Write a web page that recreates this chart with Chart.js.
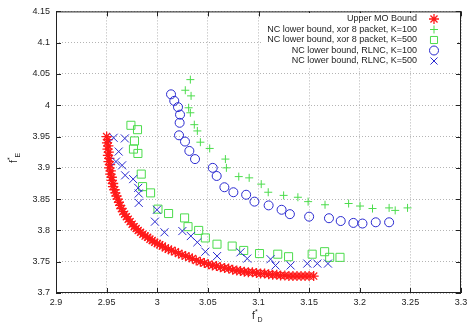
<!DOCTYPE html>
<html>
<head>
<meta charset="utf-8">
<script src="https://cdn.jsdelivr.net/npm/chart.js@4/dist/chart.umd.min.js"></script>
<style>
  html, body { margin: 0; padding: 0; background: #fff; }
  canvas { display: block; }
</style>
</head>
<body>
<canvas id="chart" width="474" height="332"></canvas>
<script>
// axis ticks
const xTickLabels = ['2.9', '2.95', '3', '3.05', '3.1', '3.15', '3.2', '3.25', '3.3'];
const yTickLabels = ['3.7', '3.75', '3.8', '3.85', '3.9', '3.95', '4', '4.05', '4.1', '4.15'];

const seriesNames = [
    'Upper MO Bound',
    'NC lower bound, xor 8 packet, K=100',
    'NC lower bound, xor 8 packet, K=500',
    'NC lower bound, RLNC, K=100',
    'NC lower bound, RLNC, K=500'
];

// upper MO bound (f*_D, f*_E)
const upperMO_D = [2.9500, 2.9512, 2.9503, 2.9518, 2.9508, 2.9522, 2.9512, 2.9528, 2.9518, 2.9535,
    2.9525, 2.9542, 2.9535, 2.9552, 2.9548, 2.9565, 2.9562, 2.9580, 2.9585, 2.9598,
    2.9608, 2.9622, 2.9632, 2.9648, 2.9660, 2.9678, 2.9695, 2.9713, 2.9732, 2.9752,
    2.9772, 2.9792, 2.9812, 2.9835, 2.9858, 2.9880, 2.9905, 2.9928, 2.9950, 2.9975,
    3.0000, 3.0025, 3.0050, 3.0080, 3.0110, 3.0140, 3.0178, 3.0210, 3.0245, 3.0280,
    3.0315, 3.0347, 3.0385, 3.0426, 3.0465, 3.0505, 3.0545, 3.0585, 3.0624, 3.0665,
    3.0705, 3.0745, 3.0785, 3.0822, 3.0860, 3.0900, 3.0940, 3.0980, 3.1020, 3.1060,
    3.1100, 3.1140, 3.1180, 3.1218, 3.1260, 3.1300, 3.1340, 3.1380, 3.1420, 3.1460,
    3.1500, 3.1545];
const upperMO_E = [3.950, 3.945, 3.940, 3.935, 3.930, 3.925, 3.920, 3.915, 3.910, 3.905,
    3.900, 3.895, 3.890, 3.885, 3.880, 3.875, 3.870, 3.865, 3.860, 3.855,
    3.850, 3.845, 3.840, 3.835, 3.830, 3.826, 3.822, 3.818, 3.814, 3.810,
    3.806, 3.803, 3.800, 3.797, 3.794, 3.791, 3.789, 3.786, 3.784, 3.781,
    3.779, 3.777, 3.775, 3.772, 3.770, 3.768, 3.766, 3.763, 3.761, 3.759,
    3.757, 3.755, 3.752, 3.750, 3.748, 3.746, 3.744, 3.743, 3.741, 3.740,
    3.739, 3.737, 3.736, 3.735, 3.734, 3.733, 3.733, 3.732, 3.731, 3.731,
    3.730, 3.729, 3.729, 3.728, 3.728, 3.727, 3.727, 3.727, 3.727, 3.727,
    3.727, 3.727];

// xor 8 packet, K=100
const xor100_D = [3.0327, 3.0277, 3.0334, 3.0310, 3.0327, 3.0366, 3.0396, 3.0426, 3.0518, 3.0673,
    3.0683, 3.0805, 3.0908, 3.1027, 3.1096, 3.1248, 3.1389, 3.1490, 3.1657, 3.1890,
    3.2003, 3.2126, 3.2290, 3.2350, 3.2472];
const xor100_E = [4.041, 4.024, 4.015, 3.996, 3.988, 3.969, 3.959, 3.941, 3.931, 3.914,
    3.900, 3.886, 3.884, 3.874, 3.861, 3.856, 3.853, 3.846, 3.841, 3.843,
    3.839, 3.835, 3.836, 3.832, 3.836];

// xor 8 packet, K=500
const xor500_D = [2.9740, 2.9805, 2.9775, 2.9765, 2.9809, 2.9842, 2.9855, 2.9934, 3.0007, 3.0112,
    3.0270, 3.0304, 3.0409, 3.0475, 3.0590, 3.0740, 3.0854, 3.1010, 3.1190, 3.1297,
    3.1530, 3.1653, 3.1703, 3.1805];
const xor500_E = [3.968, 3.961, 3.943, 3.930, 3.923, 3.890, 3.870, 3.860, 3.834, 3.827,
    3.820, 3.806, 3.800, 3.788, 3.778, 3.775, 3.768, 3.763, 3.762, 3.758,
    3.762, 3.766, 3.757, 3.757];

// RLNC, K=100
const rlnc100_D = [3.0136, 3.0168, 3.0205, 3.0225, 3.0221, 3.0215, 3.0274, 3.0317, 3.0373, 3.0548,
    3.0587, 3.0663, 3.0752, 3.0878, 3.0960, 3.1100, 3.1228, 3.1310, 3.1500, 3.1696,
    3.1812, 3.1937, 3.2027, 3.2158, 3.2290];
const rlnc100_E = [4.0175, 4.007, 3.997, 3.985, 3.972, 3.952, 3.942, 3.927, 3.914, 3.900,
    3.887, 3.869, 3.861, 3.857, 3.846, 3.840, 3.833, 3.826, 3.822, 3.8195,
    3.815, 3.812, 3.811, 3.813, 3.813];

// RLNC, K=500
const rlnc500_D = [2.9569, 2.9680, 2.9619, 2.9592, 2.9653, 2.9683, 2.9762, 2.9812, 2.9817, 2.9817,
    2.9997, 2.9977, 3.0071, 3.0248, 3.0332, 3.0396, 3.0475, 3.0591, 3.0822, 3.0889,
    3.1119, 3.1168, 3.1317, 3.1482, 3.1581, 3.1686];
const rlnc500_E = [3.948, 3.947, 3.926, 3.910, 3.904, 3.888, 3.882, 3.868, 3.859, 3.844,
    3.833, 3.814, 3.797, 3.799, 3.791, 3.781, 3.766, 3.759, 3.765, 3.755,
    3.754, 3.744, 3.744, 3.747, 3.747, 3.747];

const FONT = '"Liberation Sans", Arial, sans-serif';

function pairs(xs, ys) {
    return xs.map((x, i) => ({ x: x, y: ys[i] }));
}

function series(i, xs, ys, color, style, radius, width) {
    return {
        label: seriesNames[i],
        data: pairs(xs, ys),
        showLine: false,
        pointStyle: style,
        pointRadius: radius,
        pointHoverRadius: radius,
        pointBorderWidth: width,
        borderColor: color,
        backgroundColor: 'rgba(0,0,0,0)',
        order: 4 - i
    };
}

// frame, inward ticks, axis titles and the key
const decorations = {
    id: 'decorations',
    afterDraw(chart) {
        const ctx = chart.ctx;
        const a = chart.chartArea;
        const xs = chart.scales.x, ys = chart.scales.y;
        ctx.save();

        ctx.strokeStyle = '#222';
        ctx.lineWidth = 1;
        ctx.strokeRect(a.left + 0.5, a.top + 0.5, a.right - a.left - 1, a.bottom - a.top - 1);
        ctx.beginPath();
        xTickLabels.forEach(t => {
            const px = Math.round(xs.getPixelForValue(parseFloat(t))) + 0.5;
            ctx.moveTo(px, a.bottom); ctx.lineTo(px, a.bottom - 5);
            ctx.moveTo(px, a.top); ctx.lineTo(px, a.top + 5);
        });
        yTickLabels.forEach(t => {
            const py = Math.round(ys.getPixelForValue(parseFloat(t))) + 0.5;
            ctx.moveTo(a.left, py); ctx.lineTo(a.left + 5, py);
            ctx.moveTo(a.right, py); ctx.lineTo(a.right - 5, py);
        });
        ctx.stroke();

        // f*_D under the x axis
        ctx.fillStyle = '#222';
        ctx.textBaseline = 'alphabetic';
        ctx.textAlign = 'left';
        ctx.font = '10px ' + FONT;
        ctx.fillText('f', 252, 319);
        ctx.font = '7px ' + FONT;
        ctx.fillText('*', 255, 314);
        ctx.fillText('D', 257.5, 322);

        // f*_E beside the y axis
        ctx.save();
        ctx.translate(17, 163);
        ctx.rotate(-Math.PI / 2);
        ctx.font = '10px ' + FONT;
        ctx.fillText('f', 0, 0);
        ctx.font = '7px ' + FONT;
        ctx.fillText('*', 3, -5);
        ctx.fillText('E', 5.5, 3);
        ctx.restore();

        // key, top right
        ctx.fillStyle = '#fff';
        ctx.fillRect(262, 13, 195, 54);
        ctx.font = '9px ' + FONT;
        ctx.textAlign = 'right';
        ctx.textBaseline = 'middle';
        chart.data.datasets.forEach((ds, i) => {
            const y = 19 + i * 10.5;
            ctx.fillStyle = '#222';
            ctx.fillText(ds.label, 417, y);
            ctx.strokeStyle = ds.borderColor;
            ctx.fillStyle = 'rgba(0,0,0,0)';
            ctx.lineWidth = ds.pointBorderWidth;
            Chart.helpers.drawPoint(ctx, {
                pointStyle: ds.pointStyle, radius: Math.min(ds.pointRadius, 5), rotation: 0,
                borderWidth: ds.pointBorderWidth
            }, 434, y);
        });
        ctx.restore();
    }
};

const ctx = document.getElementById('chart').getContext('2d');
const chart = new Chart(ctx, {
    type: 'scatter',
    data: {
        datasets: [
            series(0, upperMO_D, upperMO_E, '#ff1a1a', 'star', 5, 1.3),
            series(1, xor100_D, xor100_E, '#4cdc4c', 'cross', 4, 1),
            series(2, xor500_D, xor500_E, '#4cdc4c', 'rect', 5.7, 1),
            series(3, rlnc100_D, rlnc100_E, '#2a2ad0', 'circle', 4.5, 1),
            series(4, rlnc500_D, rlnc500_E, '#2a2ad0', 'crossRot', 5.7, 1)
        ]
    },
    options: {
        responsive: false,
        animation: false,
        layout: { padding: { top: 11, right: 13, left: 0, bottom: 0 } },
        plugins: {
            legend: { display: false },
            tooltip: { enabled: false }
        },
        scales: {
            x: {
                type: 'linear',
                min: 2.9,
                max: 3.3,
                afterFit(scale) { scale.height = 39; },
                afterBuildTicks(scale) {
                    scale.ticks = xTickLabels.map(t => ({ value: parseFloat(t) }));
                },
                ticks: {
                    autoSkip: false,
                    maxRotation: 0,
                    padding: 4,
                    color: '#222',
                    font: { family: FONT, size: 9 },
                    callback: (v, i) => xTickLabels[i]
                },
                grid: { color: '#b4b4b4', lineWidth: 1, drawTicks: false },
                border: { display: false, dash: [1, 2] }
            },
            y: {
                type: 'linear',
                min: 3.7,
                max: 4.15,
                afterFit(scale) { scale.width = 56; },
                afterBuildTicks(scale) {
                    scale.ticks = yTickLabels.map(t => ({ value: parseFloat(t) }));
                },
                ticks: {
                    autoSkip: false,
                    padding: 6,
                    color: '#222',
                    font: { family: FONT, size: 9 },
                    callback: (v, i) => yTickLabels[i]
                },
                grid: { color: '#b4b4b4', lineWidth: 1, drawTicks: false },
                border: { display: false, dash: [1, 2] }
            }
        }
    },
    plugins: [decorations]
});
</script>
</body>
</html>
